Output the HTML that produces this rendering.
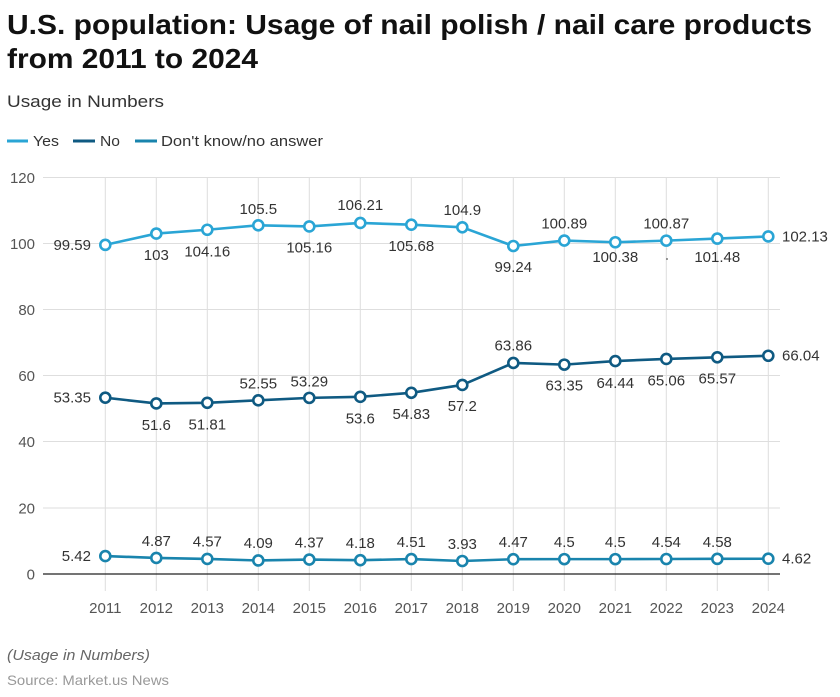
<!DOCTYPE html>
<html>
<head>
<meta charset="utf-8">
<style>
  html,body{margin:0;padding:0;background:#fff;}
  svg{display:block;}
  text{font-family:"Liberation Sans",Arial,sans-serif;}
  .lbl{font-size:15px;fill:#333;}
  .ax{font-size:15px;fill:#555;}
</style>
</head>
<body>
<svg width="840" height="697" viewBox="0 0 840 697" xmlns="http://www.w3.org/2000/svg">
  <rect width="840" height="697" fill="#fff"/>
  <!-- Title -->
  <text x="7" y="34" font-size="28" font-weight="bold" fill="#111" textLength="805" lengthAdjust="spacingAndGlyphs">U.S. population: Usage of nail polish / nail care products</text>
  <text x="7" y="68" font-size="28" font-weight="bold" fill="#111" textLength="251" lengthAdjust="spacingAndGlyphs">from 2011 to 2024</text>
  <text x="7" y="107" font-size="17" fill="#333" textLength="157" lengthAdjust="spacingAndGlyphs">Usage in Numbers</text>

  <!-- Legend -->
  <line x1="7" y1="141" x2="28" y2="141" stroke="#2aa5d5" stroke-width="3"/>
  <text x="33" y="146" font-size="15" fill="#333" textLength="26" lengthAdjust="spacingAndGlyphs">Yes</text>
  <line x1="73" y1="141" x2="95" y2="141" stroke="#0f5a82" stroke-width="3"/>
  <text x="100" y="146" font-size="15" fill="#333" textLength="20" lengthAdjust="spacingAndGlyphs">No</text>
  <line x1="135" y1="141" x2="157" y2="141" stroke="#1984ad" stroke-width="3"/>
  <text x="161" y="146" font-size="15" fill="#333" textLength="162" lengthAdjust="spacingAndGlyphs">Don't know/no answer</text>

  <!-- Grid -->
  <g stroke="#dedede" stroke-width="1">
    <line x1="43" y1="177.5" x2="780" y2="177.5"/>
    <line x1="43" y1="243.5" x2="780" y2="243.5"/>
    <line x1="43" y1="309.5" x2="780" y2="309.5"/>
    <line x1="43" y1="375.5" x2="780" y2="375.5"/>
    <line x1="43" y1="441.5" x2="780" y2="441.5"/>
    <line x1="43" y1="508" x2="780" y2="508"/>
    <line x1="105.3" y1="177" x2="105.3" y2="591"/>
    <line x1="156.3" y1="177" x2="156.3" y2="591"/>
    <line x1="207.3" y1="177" x2="207.3" y2="591"/>
    <line x1="258.3" y1="177" x2="258.3" y2="591"/>
    <line x1="309.3" y1="177" x2="309.3" y2="591"/>
    <line x1="360.3" y1="177" x2="360.3" y2="591"/>
    <line x1="411.3" y1="177" x2="411.3" y2="591"/>
    <line x1="462.3" y1="177" x2="462.3" y2="591"/>
    <line x1="513.3" y1="177" x2="513.3" y2="591"/>
    <line x1="564.3" y1="177" x2="564.3" y2="591"/>
    <line x1="615.3" y1="177" x2="615.3" y2="591"/>
    <line x1="666.3" y1="177" x2="666.3" y2="591"/>
    <line x1="717.3" y1="177" x2="717.3" y2="591"/>
    <line x1="768.3" y1="177" x2="768.3" y2="591"/>
  </g>
  <line x1="43" y1="574" x2="780" y2="574" stroke="#222" stroke-width="1.2"/>

  <!-- Y axis labels -->
  <g class="ax" text-anchor="end">
    <text x="35" y="183">120</text>
    <text x="35" y="249">100</text>
    <text x="35" y="315">80</text>
    <text x="35" y="381">60</text>
    <text x="35" y="447">40</text>
    <text x="35" y="513.5">20</text>
    <text x="35" y="579.5">0</text>
  </g>

  <!-- X axis labels -->
  <g class="ax" text-anchor="middle">
    <text x="105.3" y="613">2011</text>
    <text x="156.3" y="613">2012</text>
    <text x="207.3" y="613">2013</text>
    <text x="258.3" y="613">2014</text>
    <text x="309.3" y="613">2015</text>
    <text x="360.3" y="613">2016</text>
    <text x="411.3" y="613">2017</text>
    <text x="462.3" y="613">2018</text>
    <text x="513.3" y="613">2019</text>
    <text x="564.3" y="613">2020</text>
    <text x="615.3" y="613">2021</text>
    <text x="666.3" y="613">2022</text>
    <text x="717.3" y="613">2023</text>
    <text x="768.3" y="613">2024</text>
  </g>

  <!-- Series lines -->
  <polyline fill="none" stroke="#2aa5d5" stroke-width="2.6" stroke-linejoin="round"
    points="105.3,244.86 156.3,233.58 207.3,229.75 258.3,225.32 309.3,226.45 360.3,222.98 411.3,224.73 462.3,227.31 513.3,246.01 564.3,240.56 615.3,242.24 666.3,240.62 717.3,238.61 768.3,236.46"/>
  <polyline fill="none" stroke="#0f5a82" stroke-width="2.6" stroke-linejoin="round"
    points="105.3,397.68 156.3,403.46 207.3,402.77 258.3,400.32 309.3,397.88 360.3,396.85 411.3,392.79 462.3,384.95 513.3,362.94 564.3,364.63 615.3,361.03 666.3,358.98 717.3,357.29 768.3,355.74"/>
  <polyline fill="none" stroke="#1984ad" stroke-width="2.6" stroke-linejoin="round"
    points="105.3,556.09 156.3,557.9 207.3,558.9 258.3,560.48 309.3,559.56 360.3,560.19 411.3,559.09 462.3,561.01 513.3,559.23 564.3,559.13 615.3,559.13 666.3,559 717.3,558.86 768.3,558.73"/>

  <!-- Markers -->
  <g fill="#fff" stroke="#2aa5d5" stroke-width="2.6">
    <circle cx="105.3" cy="244.86" r="5"/><circle cx="156.3" cy="233.58" r="5"/><circle cx="207.3" cy="229.75" r="5"/><circle cx="258.3" cy="225.32" r="5"/><circle cx="309.3" cy="226.45" r="5"/><circle cx="360.3" cy="222.98" r="5"/><circle cx="411.3" cy="224.73" r="5"/><circle cx="462.3" cy="227.31" r="5"/><circle cx="513.3" cy="246.01" r="5"/><circle cx="564.3" cy="240.56" r="5"/><circle cx="615.3" cy="242.24" r="5"/><circle cx="666.3" cy="240.62" r="5"/><circle cx="717.3" cy="238.61" r="5"/><circle cx="768.3" cy="236.46" r="5"/>
  </g>
  <g fill="#fff" stroke="#0f5a82" stroke-width="2.6">
    <circle cx="105.3" cy="397.68" r="5"/><circle cx="156.3" cy="403.46" r="5"/><circle cx="207.3" cy="402.77" r="5"/><circle cx="258.3" cy="400.32" r="5"/><circle cx="309.3" cy="397.88" r="5"/><circle cx="360.3" cy="396.85" r="5"/><circle cx="411.3" cy="392.79" r="5"/><circle cx="462.3" cy="384.95" r="5"/><circle cx="513.3" cy="362.94" r="5"/><circle cx="564.3" cy="364.63" r="5"/><circle cx="615.3" cy="361.03" r="5"/><circle cx="666.3" cy="358.98" r="5"/><circle cx="717.3" cy="357.29" r="5"/><circle cx="768.3" cy="355.74" r="5"/>
  </g>
  <g fill="#fff" stroke="#1984ad" stroke-width="2.6">
    <circle cx="105.3" cy="556.09" r="5"/><circle cx="156.3" cy="557.9" r="5"/><circle cx="207.3" cy="558.9" r="5"/><circle cx="258.3" cy="560.48" r="5"/><circle cx="309.3" cy="559.56" r="5"/><circle cx="360.3" cy="560.19" r="5"/><circle cx="411.3" cy="559.09" r="5"/><circle cx="462.3" cy="561.01" r="5"/><circle cx="513.3" cy="559.23" r="5"/><circle cx="564.3" cy="559.13" r="5"/><circle cx="615.3" cy="559.13" r="5"/><circle cx="666.3" cy="559" r="5"/><circle cx="717.3" cy="558.86" r="5"/><circle cx="768.3" cy="558.73" r="5"/>
  </g>

  <!-- Yes labels -->
  <g class="lbl" text-anchor="middle">
    <text x="91" y="250" text-anchor="end">99.59</text>
    <text x="156.3" y="260">103</text>
    <text x="207.3" y="256.5">104.16</text>
    <text x="258.3" y="214">105.5</text>
    <text x="309.3" y="252.5">105.16</text>
    <text x="360.3" y="210">106.21</text>
    <text x="411.3" y="251">105.68</text>
    <text x="462.3" y="215">104.9</text>
    <text x="513.3" y="272">99.24</text>
    <text x="564.3" y="228.5">100.89</text>
    <text x="615.3" y="262">100.38</text>
    <text x="666.3" y="228.5">100.87</text>
    <text x="717.3" y="262">101.48</text>
    <text x="782" y="241.5" text-anchor="start">102.13</text>
  </g>
  <circle cx="667" cy="259" r="0.9" fill="#555"/>

  <!-- No labels -->
  <g class="lbl" text-anchor="middle">
    <text x="91" y="402.5" text-anchor="end">53.35</text>
    <text x="156.3" y="430">51.6</text>
    <text x="207.3" y="429.5">51.81</text>
    <text x="258.3" y="388.5">52.55</text>
    <text x="309.3" y="386.5">53.29</text>
    <text x="360.3" y="423.5">53.6</text>
    <text x="411.3" y="419">54.83</text>
    <text x="462.3" y="411">57.2</text>
    <text x="513.3" y="350.5">63.86</text>
    <text x="564.3" y="390.5">63.35</text>
    <text x="615.3" y="388">64.44</text>
    <text x="666.3" y="385.5">65.06</text>
    <text x="717.3" y="383.5">65.57</text>
    <text x="782" y="360.5" text-anchor="start">66.04</text>
  </g>

  <!-- Don't know labels -->
  <g class="lbl" text-anchor="middle">
    <text x="91" y="561" text-anchor="end">5.42</text>
    <text x="156.3" y="545.8">4.87</text>
    <text x="207.3" y="546.5">4.57</text>
    <text x="258.3" y="548">4.09</text>
    <text x="309.3" y="547.3">4.37</text>
    <text x="360.3" y="548">4.18</text>
    <text x="411.3" y="547">4.51</text>
    <text x="462.3" y="549">3.93</text>
    <text x="513.3" y="547">4.47</text>
    <text x="564.3" y="547">4.5</text>
    <text x="615.3" y="547">4.5</text>
    <text x="666.3" y="547">4.54</text>
    <text x="717.3" y="547">4.58</text>
    <text x="782" y="563.5" text-anchor="start">4.62</text>
  </g>

  <!-- Footer -->
  <text x="7" y="660" font-size="15" font-style="italic" fill="#666" textLength="143" lengthAdjust="spacingAndGlyphs">(Usage in Numbers)</text>
  <text x="7" y="685" font-size="14" fill="#999" textLength="162" lengthAdjust="spacingAndGlyphs">Source: Market.us News</text>
</svg>
</body>
</html>
